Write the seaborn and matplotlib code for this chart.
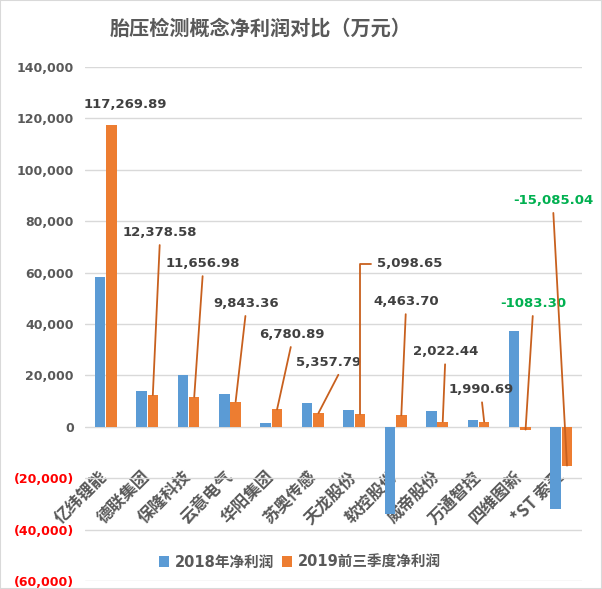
import pandas as pd
import matplotlib.pyplot as plt
import seaborn as sns
from matplotlib.ticker import FuncFormatter, MultipleLocator
from matplotlib.patches import Rectangle

# 数据（万元）
companies = ['亿纬锂能', '德联集团', '保隆科技', '云意电气', '华阳集团', '苏奥传感',
             '天龙股份', '软控股份', '威帝股份', '万通智控', '四维图新', '*ST 索菱']
profit_2018 = [58100, 14000, 20000, 12900, 1600, 9400,
               6600, -33900, 6200, 2700, 37400, -32000]
profit_2019q3 = [117269.89, 12378.58, 11656.98, 9843.36, 6780.89, 5357.79,
                 5098.65, 4463.70, 2022.44, 1990.69, -1083.30, -15085.04]
label_texts = ['117,269.89', '12,378.58', '11,656.98', '9,843.36', '6,780.89', '5,357.79',
               '5,098.65', '4,463.70', '2,022.44', '1,990.69', '-1083.30', '-15,085.04']
series_names = ['2018年净利润', '2019前三季度净利润']

# 数据标签位置（类别坐标, 万元）
label_x = [0.47, 1.31, 2.35, 3.39, 4.50, 5.39, 7.35, 7.25, 8.20, 9.07, 10.32, 10.80]
label_y = [125500, 75600, 63500, 48000, 35900, 25000, 63500, 48700, 29200, 14400, 48000, 88100]

df = pd.DataFrame({
    '公司': companies * 2,
    '系列': [series_names[0]] * len(companies) + [series_names[1]] * len(companies),
    '净利润': profit_2018 + profit_2019q3,
})

sns.set_style('white')
plt.rcParams['font.family'] = ['DejaVu Sans', 'Noto Sans CJK SC']
plt.rcParams['font.weight'] = 'bold'

blue, orange, leader = '#5B9BD5', '#ED7D31', '#C8601E'
gray_text = '#595959'

fig = plt.figure(figsize=(6.02, 5.89), dpi=100)
ax = fig.add_axes([85 / 602, 1 - 581 / 589, 497 / 602, 514 / 589])

bar_width = 0.55
sns.barplot(data=df, x='公司', y='净利润', hue='系列', hue_order=series_names,
            palette=[blue, orange], width=bar_width, gap=0.08, errorbar=None,
            saturation=1, linewidth=0, ax=ax)

ax.set_ylim(-60000, 140000)
ax.set_xlim(-0.5, len(companies) - 0.5)
ax.yaxis.set_major_locator(MultipleLocator(20000))
ax.grid(axis='y', color='#D9D9D9', linewidth=1)
ax.set_axisbelow(True)
for s in ax.spines.values():
    s.set_visible(False)
ax.spines['bottom'].set_position(('data', 0))


def fmt(v, pos):
    if v < 0:
        return '({:,.0f})'.format(-v)
    return '{:,.0f}'.format(v)


ax.yaxis.set_major_formatter(FuncFormatter(fmt))
ax.tick_params(axis='y', length=0, pad=8, labelsize=9)
for t in ax.get_yticklabels():
    t.set_fontweight('bold')
fig.canvas.draw()
for t, v in zip(ax.get_yticklabels(), ax.get_yticks()):
    t.set_color('#FF0000' if v < 0 else gray_text)

ax.tick_params(axis='x', length=0, pad=34)
ax.set_xticks(range(len(companies)))
ax.set_xticklabels(companies, rotation=45, ha='right', va='center',
                   rotation_mode='anchor', fontsize=12, color=gray_text,
                   family=['Noto Sans CJK SC'], fontweight='bold')
ax.set_xlabel('')
ax.set_ylabel('')

# 数据标签与引导线
off = bar_width / 4
for i, (txt, v) in enumerate(zip(label_texts, profit_2019q3)):
    col = '#00B050' if v < 0 else '#404040'
    kw = dict(fontsize=9.5, fontweight='bold', color=col, ha='center', va='center')
    if i == 0:
        ax.text(label_x[i], label_y[i], txt, **kw)
        continue
    if i == 6:
        arrow = dict(arrowstyle='-', color=leader, lw=1.3, relpos=(0, 0.5),
                     connectionstyle='angle,angleA=0,angleB=90,rad=0', shrinkB=0)
    else:
        arrow = dict(arrowstyle='-', color=leader, lw=1.3,
                     relpos=(0.69 if i == 5 else 0.5, 0), shrinkB=0)
    ax.annotate(txt, xy=(i + off, v), xytext=(label_x[i], label_y[i]),
                arrowprops=arrow, **kw)

handles, labels = ax.get_legend_handles_labels()
if ax.get_legend() is not None:
    ax.get_legend().remove()
fig.legend(handles, labels, loc='center', bbox_to_anchor=(300 / 602, 1 - 562 / 589),
           ncol=2, frameon=False, handlelength=0.7, handleheight=0.7, handletextpad=0.4,
           columnspacing=0.5, prop={'size': 10.5, 'weight': 'bold'}, labelcolor=gray_text)

fig.text(110 / 602, 1 - 28 / 589, '胎压检测概念净利润对比（万元）', ha='left', va='center',
         fontsize=14.5, fontweight='bold', color=gray_text, family=['Noto Sans CJK SC'])

fig.patches.append(Rectangle((0, 0), 1, 1, transform=fig.transFigure, fill=False,
                             edgecolor='#D9D9D9', linewidth=1.5))

fig.savefig('out.png', dpi=100)
